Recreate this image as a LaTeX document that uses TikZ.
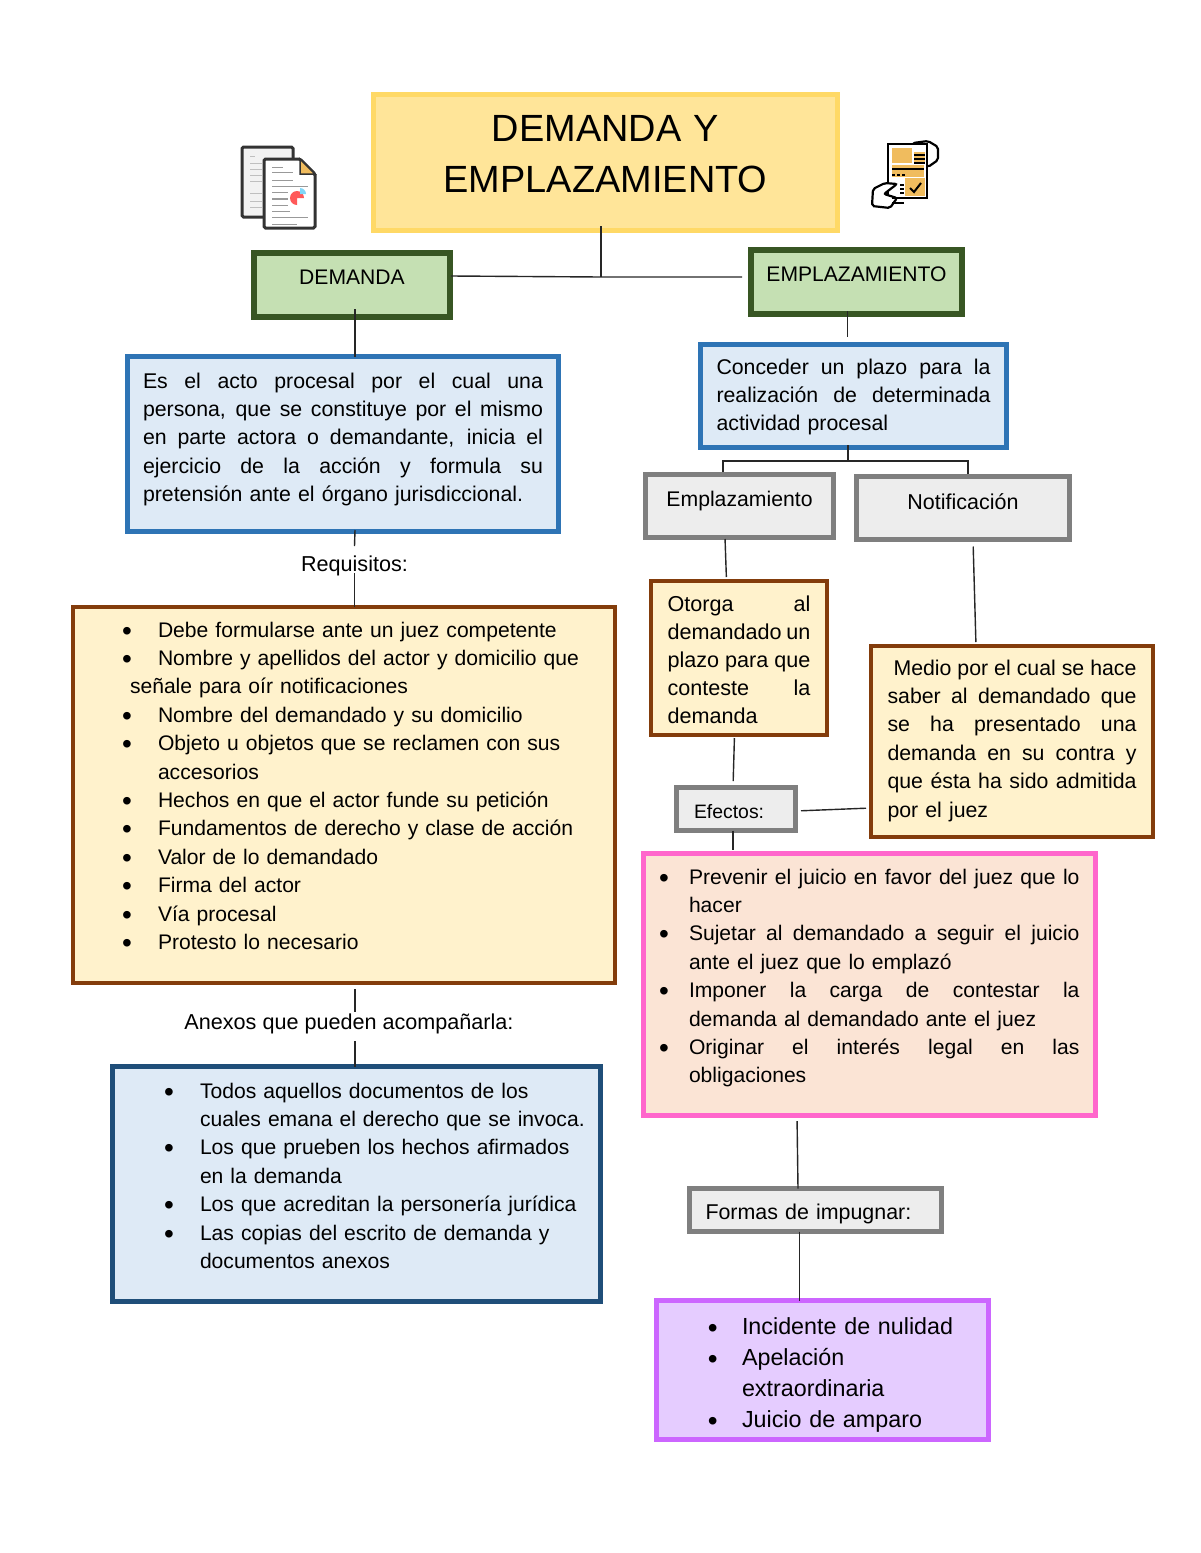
\documentclass[tikz,border=0pt]{standalone}
\usepackage{fontspec}
\setmainfont{Liberation Sans}
\usetikzlibrary{positioning}
\definecolor{titleline}{HTML}{FFD966}
\definecolor{titlefill}{HTML}{FFE599}
\definecolor{greenline}{HTML}{385623}
\definecolor{greenfill}{HTML}{C5E0B3}
\definecolor{blueline}{HTML}{2E74B5}
\definecolor{bluefill}{HTML}{DEEAF6}
\definecolor{navyline}{HTML}{1F4E79}
\definecolor{grayline}{HTML}{7F7F7F}
\definecolor{grayfill}{HTML}{EDEDED}
\definecolor{brownline}{HTML}{833C0B}
\definecolor{brownfill}{HTML}{FFF2CC}
\definecolor{pinkline}{HTML}{FF66CC}
\definecolor{pinkfill}{HTML}{FBE4D5}
\definecolor{purpleline}{HTML}{CC66FF}
\definecolor{purplefill}{HTML}{E5CCFF}
\definecolor{iconorange}{HTML}{F0BC5E}
% one line of text: justified, left, or with a bullet
\newcommand{\jline}[2][0pt]{\hbox to \hsize{\hskip #1\relax\spaceskip=.2em plus 1fil\relax #2}}
\newcommand{\lline}[2][0pt]{\hbox to \hsize{\hskip #1\relax #2\hfil}}
\newcommand{\bigbul}{\kern-1.1pt\rlap{\raisebox{-3pt}{\fontsize{28}{28}\selectfont\textbullet}}\kern1.1pt}
\newcommand{\bitem}[1]{\hbox to \hsize{\hskip\bulx\relax\bigbul\hskip\bulgap\relax #1\hfil}}
\newcommand{\bjitem}[1]{\hbox to \hsize{\hskip\bulx\relax\bigbul\hskip\bulgap\relax\spaceskip=.2em plus 1fil\relax #1}}
\tikzset{
  geom/.style n args={4}{text width=#1, inner xsep=#2, inner ysep=0pt, text height=#3, text depth=#4},
  bullets/.style 2 args={execute at begin node={\def\bulx{#1}\def\bulgap{#2}}},
  boxfont/.style={font = \fontsize{#1}{28.4}\selectfont},
  titlebox/.style={draw = titleline, fill = titlefill, line width = 5pt, align = center},
  headbox/.style={draw = greenline, fill = greenfill, line width = 6pt, align = center},
  bluebox/.style={draw = blueline, fill = bluefill, line width = 5pt},
  navybox/.style={draw = navyline, fill = bluefill, line width = 5pt},
  graybox/.style={draw = grayline, fill = grayfill, line width = 5pt},
  brownbox/.style={draw = brownline, fill = brownfill, line width = 4pt},
  pinkbox/.style={draw = pinkline, fill = pinkfill, line width = 5pt},
  purplebox/.style={draw = purpleline, fill = purplefill, line width = 5pt},
  plainlabel/.style={inner sep = 0pt, align = center},
}
\begin{document}
\begin{tikzpicture}[x = 1pt, y = -1pt, outer sep = 0pt, line width = 1.4pt, font = \fontsize{21.6}{28.4}\selectfont]
  \useasboundingbox (0,0) rectangle (1200,1553);

  % nodes
  \node [titlebox, geom = {440pt}{12pt}{46.5pt}{89.5pt}, font = \fontsize{37.9}{51}\selectfont] (title) at (605.5,162.5) {DEMANDA Y\\EMPLAZAMIENTO};
  \node [headbox, geom = {172pt}{12pt}{31pt}{33pt}, boxfont = 21.1][below = 22.5pt of title, xshift = -253.5pt] (demanda) {DEMANDA};
  \node [headbox, geom = {187pt}{12pt}{31pt}{33pt}, boxfont = 21.1][below = 19.5pt of title, xshift = 251pt] (emp) {EMPLAZAMIENTO};
  \node [bluebox, geom = {400pt}{15.5pt}{31.5pt}{143.5pt}, boxfont = 21.3][below = 39.5pt of demanda, xshift = -9pt] (acto) {%
    \jline{Es el acto procesal por el cual una}
    \jline{persona, que se constituye por el mismo}
    \jline{en parte actora o demandante, inicia el}
    \jline{ejercicio de la acción y formula su}
    \lline{pretensión ante el órgano jurisdiccional.}};
  \node [bluebox, geom = {274pt}{16pt}{29.5pt}{73.5pt}, boxfont = 21.3][below = 30.5pt of emp, xshift = -3pt] (plazo) {%
    \jline{Conceder un plazo para la}
    \jline{realización de determinada}
    \lline{actividad procesal}};
  \node [graybox, geom = {164pt}{12pt}{31.5pt}{31.5pt}, align = center, boxfont = 21.2][below = 27pt of plazo, xshift = -114pt] (emplaza) {Emplazamiento};
  \node [graybox, geom = {189pt}{12pt}{32.5pt}{30.5pt}, align = center, boxfont = 21.5][below = 29pt of plazo, xshift = 109.5pt] (notif) {Notificación};
  \node [brownbox, geom = {143pt}{16.5pt}{30pt}{124pt}, font = \fontsize{21.6}{28.2}\selectfont][below = 43.5pt of emplaza, xshift = -0.5pt] (otorga) {%
    \jline{Otorga al}
    \jline{demandado un}
    \jline{plazo para que}
    \jline{conteste la}
    \lline{demanda}};
  \node [brownbox, geom = {249pt}{16.5pt}{29pt}{162pt}, boxfont = 21.3][below = 106.5pt of notif, xshift = 49pt] (medio) {%
    \jline[6pt]{Medio por el cual se hace}
    \jline{saber al demandado que}
    \jline{se ha presentado una}
    \jline{demanda en su contra y}
    \jline{que ésta ha sido admitida}
    \lline{por el juez}};
  \node [graybox, geom = {84pt}{17.5pt}{30.5pt}{12.5pt}, boxfont = 19.4][below = 52.5pt of otorga, xshift = -3pt] (efectos) {\lline{Efectos:}};
  \node [pinkbox, geom = {420pt}{16pt}{30.5pt}{231.5pt}, boxfont = 21.1, bullets = {0.7pt}{28.8pt}][below = 23pt of efectos, xshift = 133.5pt] (listaefectos) {%
    \bjitem{Prevenir el juicio en favor del juez que lo}
    \lline[29.5pt]{hacer}
    \bjitem{Sujetar al demandado a seguir el juicio}
    \lline[29.5pt]{ante el juez que lo emplazó}
    \bjitem{Imponer la carga de contestar la}
    \lline[29.5pt]{demanda al demandado ante el juez}
    \bjitem{Originar el interés legal en las}
    \lline[29.5pt]{obligaciones}};
  \node [graybox, geom = {220pt}{16pt}{30.5pt}{12.5pt}, boxfont = 21.4][below = 73pt of listaefectos, xshift = -54pt] (formas) {\lline{Formas de impugnar:}};
  \node [purplebox, geom = {300pt}{16pt}{33.5pt}{105.5pt}, bullets = {36.4pt}{33.1pt}, font = \fontsize{23.3}{31}\selectfont][below = 69pt of formas, xshift = 7pt] (impugna) {%
    \bitem{Incidente de nulidad}
    \bitem{Apelación}
    \lline[69.5pt]{extraordinaria}
    \bitem{Juicio de amparo}};
  \node [plainlabel, text height = 25pt, text depth = 5pt][below = 14.5pt of acto, xshift = 11.5pt] (requisitos) {Requisitos:};
  \node [brownbox, geom = {510pt}{16pt}{30pt}{346pt}, boxfont = 21.1, bullets = {34.2pt}{34.8pt}][below = 31pt of requisitos, xshift = -10.5pt] (listareq) {%
    \bitem{Debe formularse ante un juez competente}
    \bitem{Nombre y apellidos del actor y domicilio que}
    \lline[41pt]{señale para oír notificaciones}
    \bitem{Nombre del demandado y su domicilio}
    \bitem{Objeto u objetos que se reclamen con sus}
    \lline[69pt]{accesorios}
    \bitem{Hechos en que el actor funde su petición}
    \bitem{Fundamentos de derecho y clase de acción}
    \bitem{Valor de lo demandado}
    \bitem{Firma del actor}
    \bitem{Vía procesal}
    \bitem{Protesto lo necesario}};
  \node [plainlabel, text height = 17pt, text depth = 12pt][below = 29pt of listareq, xshift = 5pt] (anexos) {Anexos que pueden acompañarla:};
  \node [navybox, geom = {456pt}{16pt}{31.5pt}{203.5pt}, boxfont = 21.1, bullets = {36.7pt}{34.8pt}][below = 25.5pt of anexos, xshift = 7.5pt] (listaanx) {%
    \bitem{Todos aquellos documentos de los}
    \lline[71.5pt]{cuales emana el derecho que se invoca.}
    \bitem{Los que prueben los hechos afirmados}
    \lline[71.5pt]{en la demanda}
    \bitem{Los que acreditan la personería jurídica}
    \bitem{Las copias del escrito de demanda y}
    \lline[71.5pt]{documentos anexos}};

  \coordinate [below = 46.5pt of title, xshift = -4.5pt] (topjoin);
  \coordinate [below = 13.5pt of plazo, xshift = -5.5pt] (plazojoin);

  % edges
  \begin{scope}[black!85]
    \draw ([xshift = -4.5pt, yshift = 4.5pt]title.south) -- (topjoin);
    \draw [shorten >= 9pt] ([xshift = 1pt, yshift = 9pt]demanda.east) -- (topjoin) -- ([yshift = 5pt]emp.west);
    \draw ([xshift = 3pt, yshift = 8pt]demanda.south) -- ([xshift = 12pt]acto.north);
    \draw ([xshift = 12pt, yshift = 1.5pt]acto.south) -- (requisitos.north);
    \draw ([yshift = 3pt]requisitos.south) -- ([xshift = 10.5pt]listareq.north);
    \draw [shorten <= 6pt] ([xshift = 11pt]listareq.south) -- ([xshift = 6pt]anexos.north);
    \draw ([xshift = 6pt]anexos.south) -- ([xshift = -1.5pt]listaanx.north);
    \draw [shorten >= 7.5pt] ([xshift = -9pt, yshift = 3pt]emp.south) -- ([xshift = -6pt]plazo.north);
    \draw ([xshift = -5.5pt, yshift = 2.5pt]plazo.south) -- (plazojoin);
    \draw [shorten <= 2.5pt] ([xshift = -16.5pt]emplaza.north) |- (plazojoin);
    \draw [shorten <= 2.5pt] ([xshift = 5pt]notif.north) |- (plazojoin);
    \draw [shorten <= 1.5pt, shorten >= 4pt] ([xshift = -14.5pt]emplaza.south) -- ([xshift = -12.5pt]otorga.north);
    \draw [shorten <= 7pt, shorten >= 4pt] ([xshift = 10pt]notif.south) -- ([xshift = -36pt]medio.north);
    \draw [shorten <= 3pt, shorten >= 6.5pt] ([xshift = -4.5pt]otorga.south) -- ([xshift = -3pt]efectos.north);
    \draw [shorten <= 5.5pt, shorten >= 5pt] ([yshift = -2pt]efectos.east) -- ([yshift = -66.5pt]medio.west);
    \draw [shorten >= 3.5pt] ([xshift = -3pt]efectos.south) -- ([xshift = -136.5pt]listaefectos.north);
    \draw [shorten <= 5.5pt] ([xshift = -72.5pt]listaefectos.south) -- ([xshift = -17.5pt]formas.north);
    \draw ([xshift = -16pt]formas.south) -- ([xshift = -23pt]impugna.north);
  \end{scope}

  % icon, two sheets
  \draw [line width = 3pt, rounded corners = 1.5pt, draw = black!80, fill = black!5] (242,147) rectangle (293,217);
  \foreach \y/\xa in {156/255, 163/262, 169/262, 175/262, 181/262, 193/262, 201/262, 207/262}
    \draw [line width = 0.8pt, black!25] (250,\y) -- (\xa,\y);
  \draw [line width = 3pt, rounded corners = 1.5pt, draw = black!80, fill = white] (264,159) -- (300,159) -- (315,174) -- (315,228) -- (264,228) -- cycle;
  \draw [line width = 1.5pt, draw = black!80, fill = iconorange] (300,159) -- (300,174) -- (315,174) -- cycle;
  \foreach \y/\xa in {167/283, 172/293, 180/293, 186/308, 192/288, 205/288, 211/290, 217/308, 224/297}
    \draw [line width = 0.8pt, black!40] (272,\y) -- (\xa,\y);
  \draw [line width = 2pt, black!40] (272,199) -- (288,199);
  \fill [red!65!white] (297,198) -- (304,198) arc (0:-270:7) -- cycle;
  \fill [cyan!50!white] (300,194) -- (300,188) arc (-90:0:6) -- cycle;

  % icon, sheet held by two hands
  \draw [line width = 2.2pt, rounded corners = 2pt, fill = white] (913,143) -- (928,141) -- (938,147) -- (938,160) -- (928,167) -- (916,160) -- cycle;
  \draw [line width = 2.2pt, fill = white] (888,144) rectangle (927,198);
  \fill [iconorange] (892,148) rectangle (912,163);
  \fill [iconorange] (892,165) rectangle (924,177);
  \fill [iconorange] (905,178) rectangle (925,196);
  \foreach \y in {153,157,161}
    \draw [line width = 1.5pt, iconorange] (914,\y) -- (925,\y);
  \foreach \y in {155,159,163}
    \draw [line width = 1.5pt] (914,\y) -- (925,\y);
  \draw [line width = 2pt] (892,169) -- (924,169);
  \draw [line width = 2pt, dash pattern = on 3pt off 2pt] (892,175) -- (905,175);
  \draw [line width = 2pt] (910,188) -- (914,192) -- (921,183);
  \foreach \y in {185,189,193}
    \draw [line width = 1.5pt] (900,\y) -- (904,\y);
  \draw [line width = 2.2pt, rounded corners = 2pt, fill = white] (897,184) -- (885,183) -- (873,189) -- (872,206) -- (890,208) -- (897,198) -- (884,194) -- cycle;
  \draw [line width = 2pt] (892,198) -- (904,198);
  \draw [line width = 2pt] (892,203) -- (904,203);
\end{tikzpicture}
\end{document}
